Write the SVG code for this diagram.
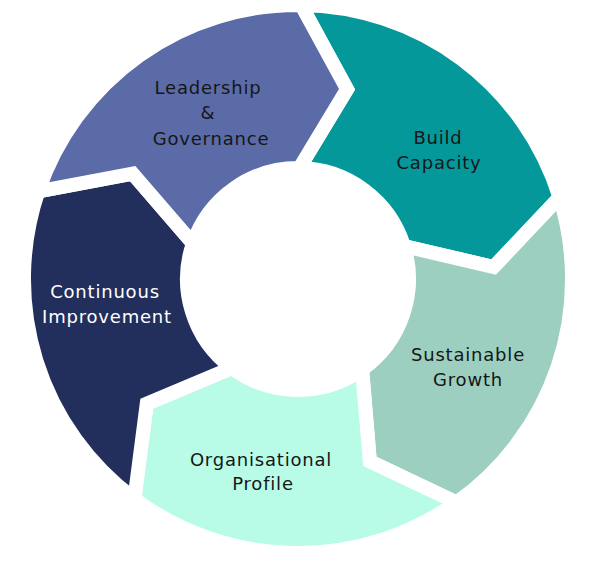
<svg xmlns="http://www.w3.org/2000/svg" xmlns:xlink="http://www.w3.org/1999/xlink" width="594" height="577" viewBox="0 0 594 577">
<style>
.seg{stroke:#ffffff;stroke-width:14;stroke-linejoin:miter;stroke-miterlimit:10}
.lbl{font-family:"DejaVu Sans","Liberation Sans",sans-serif;font-size:18px;letter-spacing:0.8px;text-anchor:middle;fill:#161616}
.lbl.w{fill:#ffffff}
</style>
<defs>
<path id="wedge" d="M -4.06,-274 A 274 274 0 0 1 259.34,-88.53 L 195.26,-17.09 L 105.07,-35.74 A 111 111 0 0 0 -1.52,-110.97 L 44.09,-190.98 Z"/>
</defs>
<rect width="594" height="577" fill="#ffffff"/>
<g id="build-capacity">
<use href="#wedge" xlink:href="#wedge" class="seg" fill="#05989B" transform="translate(298 279) rotate(1.5)"/>
<text class="lbl" x="438" y="144">Build</text>
<text class="lbl" x="439" y="169">Capacity</text>
</g>
<g id="sustainable-growth">
<use href="#wedge" xlink:href="#wedge" class="seg" fill="#9CCFBF" transform="translate(298 279) rotate(73.5)"/>
<text class="lbl" x="468" y="361">Sustainable</text>
<text class="lbl" x="468" y="386">Growth</text>
</g>
<g id="organisational-profile">
<use href="#wedge" xlink:href="#wedge" class="seg" fill="#B8FCE7" transform="translate(298 279) rotate(145.5)"/>
<text class="lbl" x="261" y="466">Organisational</text>
<text class="lbl" x="263" y="490">Profile</text>
</g>
<g id="continuous-improvement">
<use href="#wedge" xlink:href="#wedge" class="seg" fill="#222E5C" transform="translate(298 279) rotate(217.5)"/>
<text class="lbl w" x="105" y="298">Continuous</text>
<text class="lbl w" x="107" y="323">Improvement</text>
</g>
<g id="leadership-governance">
<use href="#wedge" xlink:href="#wedge" class="seg" fill="#5B6BA8" transform="translate(298 279) rotate(289.5)"/>
<text class="lbl" x="208" y="94">Leadership</text>
<text class="lbl" x="208" y="119">&amp;</text>
<text class="lbl" x="211" y="145">Governance</text>
</g>
<g id="connectors"></g>
</svg>
